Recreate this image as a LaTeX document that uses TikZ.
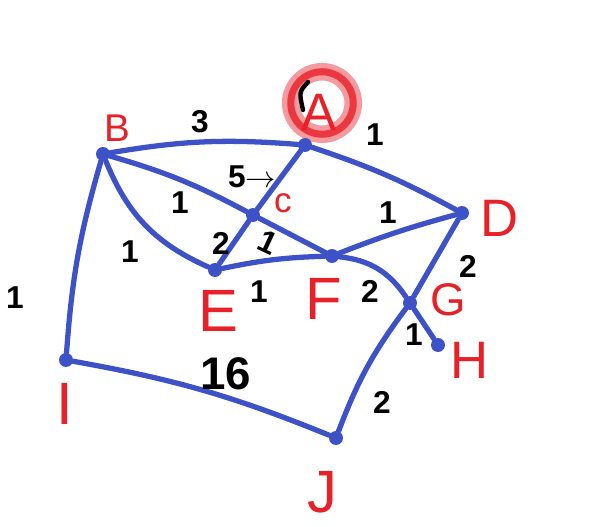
\documentclass[tikz,border=0pt]{standalone}
\usepackage{fontspec}
\setmainfont{Liberation Sans}
\definecolor{penblue}{RGB}{62,82,200}
\definecolor{penred}{RGB}{232,32,40}
\begin{document}
\begin{tikzpicture} [x=0.02cm, y=-0.02cm,
                vertex/.style={circle, fill=penblue, inner sep=0pt, minimum size=0.28cm},
                edge/.style={draw=penblue, line width=3pt, line cap=round},
                vlabel/.style={text=penred, font=\fontsize{30}{30}\selectfont},
                wlabel/.style={font=\bfseries\fontsize{18}{18}\selectfont}]
                \useasboundingbox (0,0) rectangle (610,527);
                % ring round the start
                \node[circle, draw=penred, line width=10pt, opacity=0.45, minimum size=1.25cm] (ring) at (322,103) {};
                \node[circle, draw=penred, line width=4pt, opacity=0.8, minimum size=1.25cm] (ringin) at (322,103) {};
                \draw[line width=2.5pt, line cap=round] (308,82) .. controls (299,92) .. (303,110);
                % vertices
                \node[vertex] (A) at (305,145) {};
                \node[vertex] (B) at (103,154) {};
                \node[vertex] (C) at (253,215) {};
                \node[vertex] (D) at (462,213) {};
                \node[vertex] (E) at (215,270) {};
                \node[vertex] (F) at (332,256) {};
                \node[vertex] (G) at (410,303) {};
                \node[vertex] (H) at (438,345) {};
                \node[vertex] (I) at (66,360) {};
                \node[vertex] (J) at (336,438) {};
                % edges
                \draw[edge] (B) to[bend left=7] (A);
                \draw[edge] (A) to[bend left=5] (D);
                \draw[edge] (A) -- (C);
                \draw[edge] (B) to[bend left=6] (C);
                \draw[edge] (B) to[bend right=22] (E);
                \draw[edge] (C) -- (E);
                \draw[edge] (C) -- (F);
                \draw[edge] (F) to[bend left=25] (G);
                \draw[edge] (E) to[bend left=5] (F);
                \draw[edge] (F) to[bend left=3] (D);
                \draw[edge] (D) -- (G);
                \draw[edge] (G) -- (H);
                \draw[edge] (B) to[bend right=6] (I);
                \draw[edge] (I) to[bend left=6] (J);
                \draw[edge] (G) to[bend right=8] (J);
                % names
                \node[vlabel, font=\fontsize{22}{22}\selectfont] (nB) at (117,128) {B};
                \node[vlabel] (nA) at (319,112) {A};
                \node[vlabel, font=\fontsize{20}{20}\selectfont] (nC) at (283,203) {c};
                \node[vlabel] (nD) at (500,218) {D};
                \node[vlabel, font=\fontsize{34}{34}\selectfont] (nE) at (218,311) {E};
                \node[vlabel, font=\fontsize{34}{34}\selectfont] (nF) at (324,299) {F};
                \node[vlabel, font=\fontsize{26}{26}\selectfont] (nG) at (448,300) {G};
                \node[vlabel] (nH) at (470,360) {H};
                \node[vlabel, font=\fontsize{34}{34}\selectfont] (nI) at (65,404) {I};
                \node[vlabel, font=\fontsize{34}{34}\selectfont] (nJ) at (322,492) {J};
                % weights
                \node[wlabel] (wBA) at (200,122) {3};
                \node[wlabel] (wAD) at (375,135) {1};
                \node[wlabel] (wAC) at (252,177) {5$\rightarrow$};
                \node[wlabel] (wBC) at (180,203) {1};
                \node[wlabel] (wBE) at (130,252) {1};
                \node[wlabel] (wCE) at (221,243) {2};
                \node[wlabel, rotate=-25] (wCF) at (268,242) {1};
                \node[wlabel] (wFD) at (388,213) {1};
                \node[wlabel] (wEF) at (259,292) {1};
                \node[wlabel] (wFG) at (370,291) {2};
                \node[wlabel] (wDG) at (468,266) {2};
                \node[wlabel] (wGH) at (414,335) {1};
                \node[wlabel] (wBI) at (15,298) {1};
                \node[wlabel, font=\bfseries\fontsize{26}{26}\selectfont] (wIJ) at (226,374) {16};
                \node[wlabel] (wGJ) at (382,402) {2};
            \end{tikzpicture}
\end{document}
